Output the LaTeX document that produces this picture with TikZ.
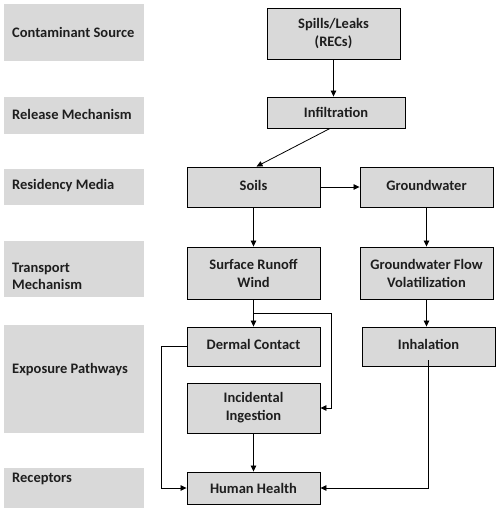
\documentclass[tikz,border=0pt]{standalone}
\usepackage{fontspec}
\setmainfont{Carlito}
\usetikzlibrary{arrows.meta,calc}
\definecolor{boxgray}{RGB}{217,217,217}
\definecolor{txt}{RGB}{30,30,30}
\newcommand{\upt}[1]{\raisebox{4pt}{#1}}
\begin{document}
\begin{tikzpicture}[x=1pt,y=-1pt,
  labbox/.style={fill=boxgray, inner sep=0, minimum width=140pt},
  labtext/.style={anchor=west, inner sep=0, align=left, text=txt, font=\fontsize{14.5}{17}\selectfont\bfseries},
  box/.style={draw=black, line width=0.9pt, fill=boxgray, inner sep=0, minimum width=133pt, align=center, text=txt, font=\fontsize{14.5}{18}\selectfont\bfseries},
  conn/.style={line width=0.8pt, -{Triangle[length=6pt,width=5.5pt]}},
  plain/.style={line width=0.8pt}]
\useasboundingbox (0,0) rectangle (499,509);
% left labels
\node[labbox, minimum height=57pt] (l1) at (74,32.5) {};
\node[labtext] (t1) at (12,32) {Contaminant Source};
\node[labbox, minimum height=37pt] (l2) at (74,115.5) {};
\node[labtext] (t2) at (12,114) {Release Mechanism};
\node[labbox, minimum height=36pt] (l3) at (74,187) {};
\node[labtext] (t3) at (12,186) {Residency Media};
\node[labbox, minimum height=56pt] (l4) at (74,269) {};
\node[labtext] (t4) at (12,276) {Transport\\Mechanism};
\node[labbox, minimum height=108pt] (l5) at (74,379) {};
\node[labtext] (t5) at (12,370) {Exposure Pathways};
\node[labbox, minimum height=40pt] (l6) at (74,488) {};
\node[labtext] (t6) at (12,479) {Receptors};
% diagram boxes
\node[box, minimum height=51pt] (spills) at (333.5,33.5) {Spills/Leaks\\(RECs)};
\node[box, minimum height=31pt, minimum width=138pt] (infil) at (336,112.5) {Infiltration};
\node[box, minimum height=40pt] (soils) at (253.5,187) {\upt{Soils}};
\node[box, minimum height=40pt] (gw) at (426.5,187) {\upt{Groundwater}};
\node[box, minimum height=52pt] (surf) at (253.5,273) {Surface Runoff\\Wind};
\node[box, minimum height=52pt] (gwf) at (426.5,273) {Groundwater Flow\\Volatilization};
\node[box, minimum height=39pt] (derm) at (253.5,346.5) {\upt{Dermal Contact}};
\node[box, minimum height=39pt] (inh) at (428.5,346.5) {\upt{Inhalation}};
\node[box, minimum height=50pt] (incid) at (253.5,408) {Incidental\\Ingestion};
\node[box, minimum height=32pt] (human) at (253.5,488) {Human Health};
% connectors
\draw[conn] (spills.south) -- (spills.south |- infil.north);
\draw[conn] ([xshift=-6pt]infil.south) -- ([xshift=3pt]soils.north);
\draw[conn] (soils.east) -- (gw.west);
\draw[conn] (soils.south) -- (surf.north);
\draw[conn] (gw.south) -- (gw.south |- gwf.north);
\draw[conn] (surf.south) -- (derm.north);
\coordinate (br) at ($(surf.south)!0.5!(derm.north)$);
\draw[conn] (br) -- ++(78,0) |- (incid.east);
\draw[conn] (gwf.south) -- (gwf.south |- inh.north);
\draw[conn] (derm.west) -- ++(-25,0) |- (human.west);
\draw[conn] (incid.south) -- (human.north);
\draw[conn] ([yshift=6pt]inh.south) |- (human.east);
\end{tikzpicture}
\end{document}
